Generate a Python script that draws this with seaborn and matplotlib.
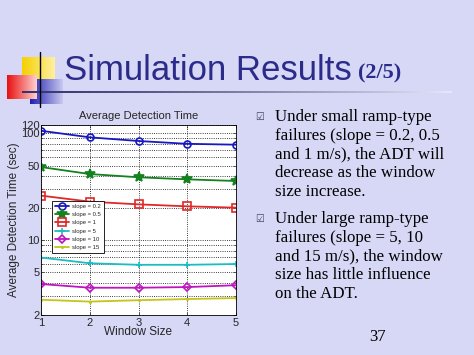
import numpy as np
import matplotlib
matplotlib.use("Agg")
import matplotlib.pyplot as plt
import seaborn as sns
from matplotlib.ticker import FixedLocator, LogLocator, NullFormatter

# ---- data ----
window_size = [1, 2, 3, 4, 5]
slope_labels = ["slope = 0.2", "slope = 0.5", "slope = 1", "slope = 5", "slope = 10", "slope = 15"]
adt_slope_02 = [106, 92, 85, 80, 78.5]
adt_slope_05 = [48.5, 41.7, 38.9, 37.2, 35.9]
adt_slope_1 = [26.2, 23.0, 21.7, 20.8, 20.2]
adt_slope_5 = [6.9, 6.1, 5.9, 5.9, 6.0]
adt_slope_10 = [3.9, 3.6, 3.6, 3.65, 3.8]
adt_slope_15 = [2.78, 2.67, 2.75, 2.82, 2.88]
y_ticks = [2, 5, 10, 20, 50, 100, 120]

series = [adt_slope_02, adt_slope_05, adt_slope_1, adt_slope_5, adt_slope_10, adt_slope_15]
colors = ["#1818c0", "#14821e", "#e02828", "#1cbcc0", "#c014c0", "#c4c41c"]
marker_list = ["o", "*", "s", "+", "D", "."]
msizes = [5, 7, 6, 5, 4, 2]

W, H = 474, 355
BG = "#d7d7f6"

sns.set_theme(style="ticks")
plt.rcParams["font.family"] = ["Liberation Sans", "DejaVu Sans"]

fig = plt.figure(figsize=(W / 100, H / 100), dpi=100, facecolor=BG)


def px(x, y):
    # pixel coords (top-left origin) -> figure fraction
    return x / W, 1 - y / H


def grad_box(x0, y0, x1, y1, c_from, c_to, power=1.0):
    l, b = px(x0, y1)
    ax_g = fig.add_axes([l, b, (x1 - x0) / W, (y1 - y0) / H])
    c0 = np.array(matplotlib.colors.to_rgb(c_from))
    c1 = np.array(matplotlib.colors.to_rgb(c_to))
    t = np.linspace(0, 1, 80)[:, None] ** power
    row = c0[None, :] * (1 - t) + c1[None, :] * t      # (80, 3)
    img = np.repeat(row[None, :, :], 4, axis=0)        # (4, 80, 3)
    ax_g.imshow(img, aspect="auto", interpolation="bilinear")
    ax_g.axis("off")
    return ax_g


# decorative squares
grad_box(22, 57, 55, 86, "#f5d000", "#fff0a0")
grad_box(30, 79, 63, 104, "#2020b0", "#c8c8f0")
grad_box(7, 75, 37, 99, "#e81010", "#ffd0d0")
# gradient rule under title
grad_box(22, 90.8, 452, 93.2, "#36366c", "#e6e6fb", power=1.3)
fig.add_artist(plt.Line2D([40 / W, 40 / W], [1 - 52 / H, 1 - 107 / H], color="black", lw=1.0))

fig.text(*px(64, 70), "Simulation Results", fontsize=25, color="#2b2b8a", va="center", ha="left")
fig.text(*px(358, 73), "(2/5)", fontsize=16, color="#2b2b8a", va="center", ha="left",
         family=["Liberation Serif"], fontweight="bold")

# ---- chart ----
ax = fig.add_axes([41 / W, 40 / H, 195 / W, 190 / H])
ax.set_facecolor("white")
for vals, lab, c, mk, ms in zip(series, slope_labels, colors, marker_list, msizes):
    hollow = mk in ("o", "s", "D")
    sns.lineplot(x=window_size, y=vals, ax=ax, color=c, label=lab, linewidth=1.3,
                 marker=mk, markersize=ms, markeredgewidth=1.2, markeredgecolor=c,
                 markerfacecolor="none" if hollow else c)

ax.set_yscale("log")
ax.set_xlim(1, 5)
ax.set_ylim(2, 120)
ax.xaxis.set_major_locator(FixedLocator(window_size))
ax.yaxis.set_major_locator(FixedLocator(y_ticks))
ax.set_yticklabels([str(v) for v in y_ticks])
ax.yaxis.set_minor_locator(LogLocator(base=10, subs=np.arange(2, 10)))
ax.yaxis.set_minor_formatter(NullFormatter())
ax.grid(True, which="major", color="black", linestyle=":", linewidth=0.6)
ax.grid(True, which="minor", axis="y", color="black", linestyle=":", linewidth=0.6)
ax.tick_params(which="both", direction="in", top=True, right=True, labelsize=8,
               length=2.5, width=0.5)
ax.tick_params(axis="y", pad=1)
ax.tick_params(axis="x", pad=2)
ax.tick_params(which="minor", length=1.5)
for s in ax.spines.values():
    s.set_linewidth(0.6)
    s.set_color("black")
ax.set_xlabel("Window Size", fontsize=8.5, labelpad=-1)
ax.set_ylabel("Average Detection Time (sec)", fontsize=8.5, labelpad=1)
ax.set_title("Average Detection Time", fontsize=8, pad=4)

handles, labels = ax.get_legend_handles_labels()
leg = ax.legend(handles, labels, loc="lower left", bbox_to_anchor=(0.04, 0.31), fontsize=4.2,
                frameon=True, fancybox=False, edgecolor="black", framealpha=1,
                borderpad=0.5, labelspacing=0.55, handlelength=2.4, handletextpad=0.6)
leg.get_frame().set_linewidth(0.6)

# ---- bullet text ----
bullets = [
    ["Under small ramp-type", "failures (slope = 0.2, 0.5", "and 1 m/s), the ADT will",
     "decrease as the window", "size increase."],
    ["Under large ramp-type", "failures (slope = 5, 10", "and 15 m/s), the window",
     "size has little influence", "on the ADT."],
]
starts = [117, 219]
for lines, y0 in zip(bullets, starts):
    fig.text(*px(260, y0), "\u2611", fontsize=7, color="#404060", ha="center", va="center",
             family=["DejaVu Sans"])
    for i, t in enumerate(lines):
        fig.text(*px(275, y0 + i * 18.8), t, fontsize=12.2, color="black", ha="left", va="center",
                 family=["Liberation Serif"])
fig.text(*px(377, 337), "37", fontsize=12, color="black", ha="center", va="center",
         family=["Liberation Serif"])

fig.savefig("out.png", dpi=100, facecolor=BG)
